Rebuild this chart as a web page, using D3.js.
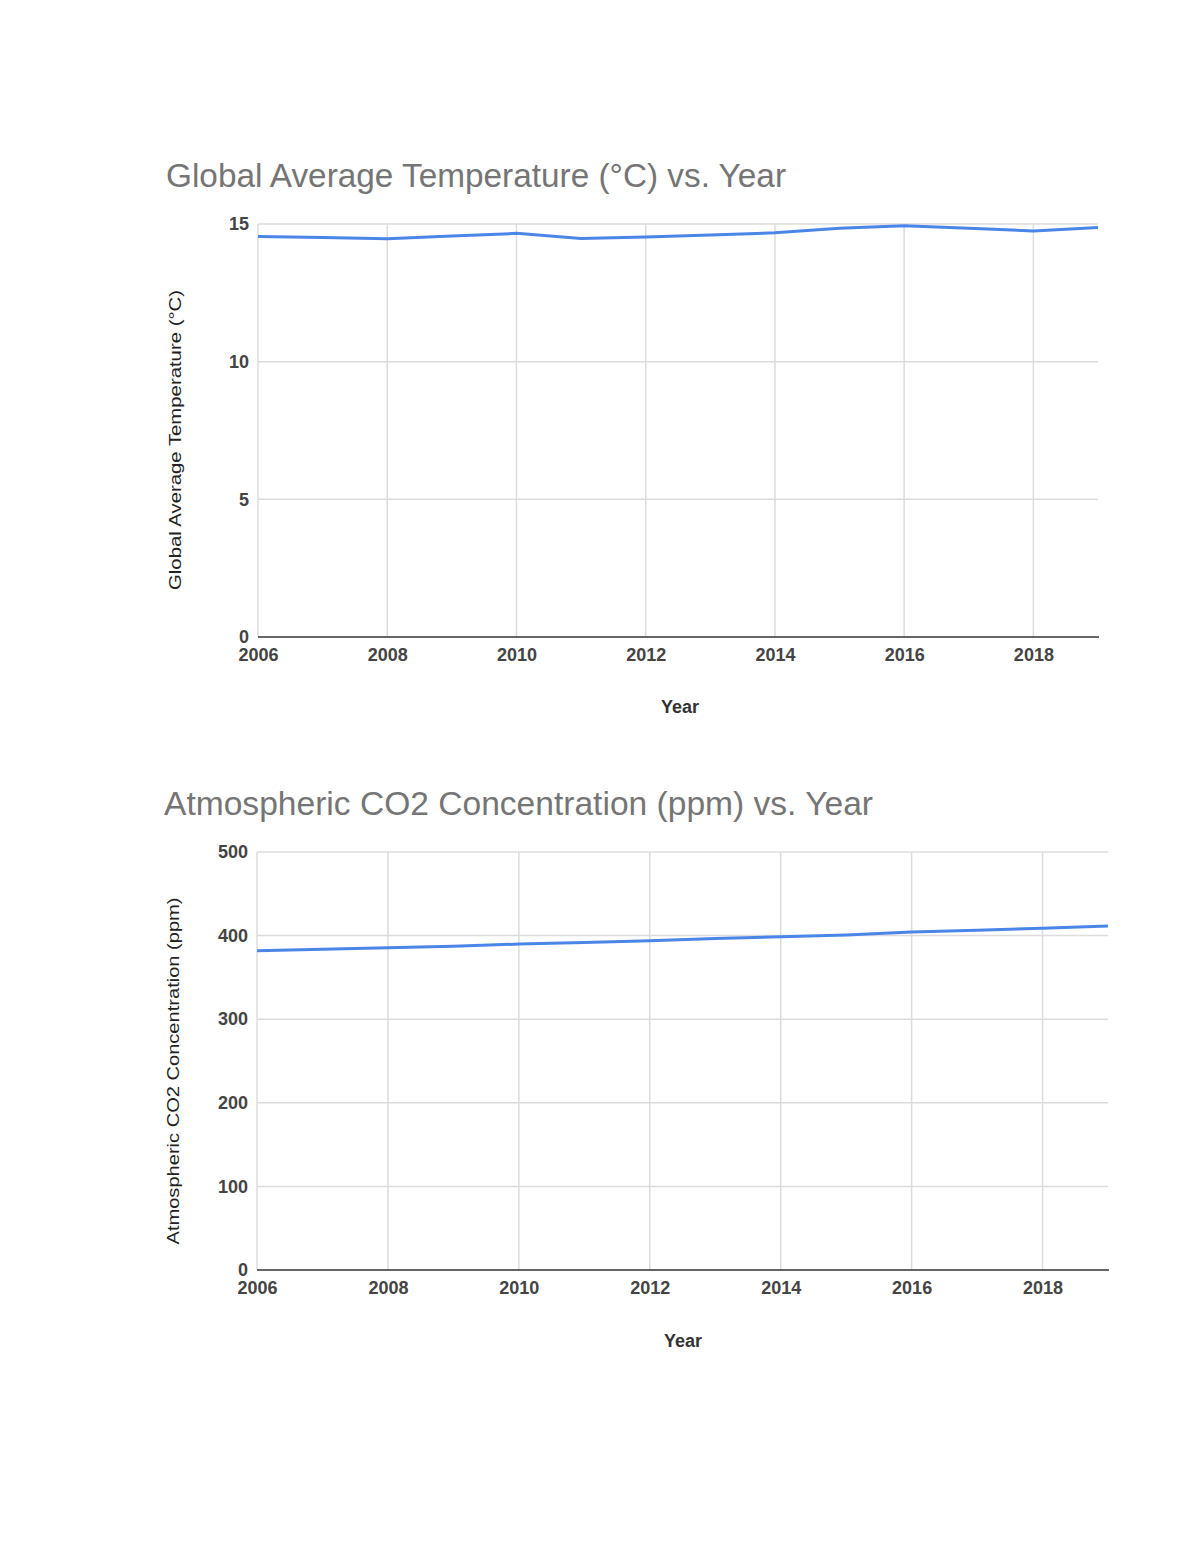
<!DOCTYPE html>
<html>
<head>
<meta charset="utf-8">
<script src="https://cdn.jsdelivr.net/npm/d3@7"></script>
<style>
  html, body { margin: 0; padding: 0; background: #fff; }
  svg { display: block; font-family: "Liberation Sans", Arial, sans-serif; }
</style>
</head>
<body>
<svg id="chart" width="1200" height="1553"></svg>
<script>
const years = [2006, 2007, 2008, 2009, 2010, 2011, 2012, 2013, 2014, 2015, 2016, 2017, 2018, 2019];
const temperature = [14.55, 14.51, 14.46, 14.56, 14.66, 14.47, 14.53, 14.60, 14.68, 14.85, 14.94, 14.85, 14.75, 14.87];
const co2 = [381.9, 383.8, 385.6, 387.4, 389.9, 391.6, 393.9, 396.5, 398.6, 400.8, 404.2, 406.5, 408.7, 411.4];
const xTicks = [2006, 2008, 2010, 2012, 2014, 2016, 2018];
const tempTicks = [0, 5, 10, 15];
const co2Ticks = [0, 100, 200, 300, 400, 500];
const titles = ["Global Average Temperature (°C) vs. Year", "Atmospheric CO2 Concentration (ppm) vs. Year"];
const yTitles = ["Global Average Temperature (°C)", "Atmospheric CO2 Concentration (ppm)"];
const xTitle = "Year";

const svg = d3.select("#chart");

function drawChart(cfg) {
  const g = svg.append("g");
  const x = d3.scaleLinear().domain([2006, 2019]).range([cfg.left, cfg.right]);
  const y = d3.scaleLinear().domain([0, cfg.yMax]).range([cfg.bottom, cfg.top]);

  // title
  g.append("text").attr("x", cfg.titleX).attr("y", cfg.titleY)
    .attr("font-size", 34).attr("fill", "#757575")
    .attr("textLength", cfg.titleLen).attr("lengthAdjust", "spacingAndGlyphs")
    .text(cfg.title);

  // gridlines
  g.append("g").selectAll("line").data(cfg.yTicks.filter(d => d !== 0)).join("line")
    .attr("x1", cfg.left).attr("x2", cfg.right)
    .attr("y1", d => y(d)).attr("y2", d => y(d))
    .attr("stroke", "#dcdcdc").attr("stroke-width", 1.5);
  g.append("g").selectAll("line").data(xTicks).join("line")
    .attr("x1", d => x(d)).attr("x2", d => x(d))
    .attr("y1", cfg.top).attr("y2", cfg.bottom)
    .attr("stroke", "#dcdcdc").attr("stroke-width", 1.5);

  // baseline
  g.append("line").attr("x1", cfg.left).attr("x2", cfg.right + 1)
    .attr("y1", y(0)).attr("y2", y(0)).attr("stroke", "#333").attr("stroke-width", 1.5);

  // y tick labels
  const yAxis = d3.axisLeft(y).tickValues(cfg.yTicks).tickSize(0).tickPadding(9);
  const ya = g.append("g").attr("transform", `translate(${cfg.left},0)`).call(yAxis);
  ya.select(".domain").remove();
  ya.selectAll("text").attr("font-size", 18).attr("font-weight", "bold").attr("fill", "#444")
    .attr("font-family", "Liberation Sans, Arial, sans-serif");

  // x tick labels
  const xAxis = d3.axisBottom(x).tickValues(xTicks).tickFormat(d3.format("d")).tickSize(0).tickPadding(11);
  const xa = g.append("g").attr("transform", `translate(0,${cfg.bottom})`).call(xAxis);
  xa.select(".domain").remove();
  xa.selectAll("text").attr("font-size", 18).attr("font-weight", "bold").attr("fill", "#444")
    .attr("font-family", "Liberation Sans, Arial, sans-serif");

  // axis titles
  g.append("text").attr("x", cfg.xTitleX).attr("y", cfg.xTitleY).attr("text-anchor", "middle")
    .attr("font-size", 18).attr("font-weight", "bold").attr("fill", "#333").text(xTitle);
  g.append("text")
    .attr("transform", `translate(${cfg.yTitleX},${cfg.yTitleY}) rotate(-90)`)
    .attr("text-anchor", "middle").attr("font-size", 17).attr("fill", "#222")
    .attr("textLength", cfg.yTitleLen).attr("lengthAdjust", "spacingAndGlyphs")
    .text(cfg.yTitle);

  // line
  const line = d3.line().x((d, i) => x(years[i])).y(d => y(d));
  g.append("path").datum(cfg.values).attr("d", line)
    .attr("fill", "none").attr("stroke", "#4a86e8").attr("stroke-width", 3)
    .attr("stroke-linejoin", "round");
}

drawChart({
  title: titles[0], titleX: 166, titleY: 187, titleLen: 620,
  left: 258, right: 1098, top: 224, bottom: 637, yMax: 15,
  yTicks: tempTicks, values: temperature, yTitle: yTitles[0], yTitleLen: 300,
  xTitleX: 680, xTitleY: 713, yTitleX: 181, yTitleY: 440
});

drawChart({
  title: titles[1], titleX: 164, titleY: 815, titleLen: 709,
  left: 257, right: 1108, top: 852, bottom: 1270, yMax: 500,
  yTicks: co2Ticks, values: co2, yTitle: yTitles[1], yTitleLen: 347,
  xTitleX: 683, xTitleY: 1347, yTitleX: 179, yTitleY: 1071
});
</script>
</body>
</html>
